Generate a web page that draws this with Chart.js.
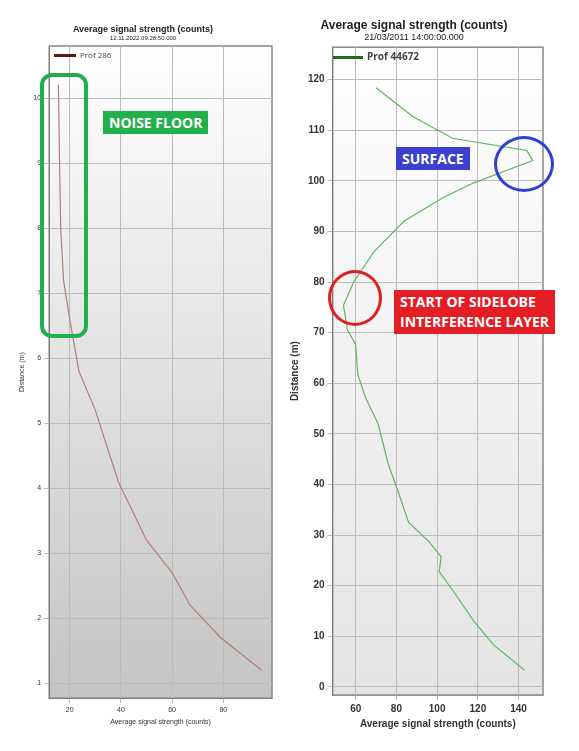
<!DOCTYPE html>
<html>
<head>
<script src="https://cdn.jsdelivr.net/npm/chart.js@4"></script>
<style>
body { margin:0; background:#fff; font-family:"Open Sans", sans-serif; }
.wrap { position:absolute; top:0; height:740px; }
.tag { position:absolute; color:#fff; font-weight:bold; font-family:"Open Sans"; padding:2px 6px; }
.ring { position:absolute; border-style:solid; }
.leg { position:absolute; font-size:9px; color:#444; }
.leg span { display:inline-block; width:22px; height:3px; vertical-align:middle; margin-right:4px; }
</style>
</head>
<body>
<div class="wrap" style="left:0;width:290px"><canvas id="c1"></canvas></div>
<div class="wrap" style="left:285px;width:294px"><canvas id="c2"></canvas></div>

<div class="leg" style="left:54px;top:49px;font-size:8px"><span style="background:#5a1a1a"></span>Prof 286</div>
<div class="leg" style="left:333px;top:49px;font-weight:bold;font-size:10px"><span style="background:#1e6e1e;width:30px"></span>Prof 44672</div>

<div class="tag" style="left:103px;top:111px;background:#22b04b;font-size:14px">NOISE FLOOR</div>
<div class="ring" style="left:40px;top:73px;width:40px;height:257px;border:4px solid #22b04b;border-radius:12px"></div>
<div class="tag" style="left:396px;top:147px;background:#3d3fd0;font-size:14px">SURFACE</div>
<div class="ring" style="left:494px;top:136px;width:54px;height:50px;border:3px solid #3040d0;border-radius:50%"></div>
<div class="tag" style="left:394px;top:290px;background:#e51e25;font-size:14px;line-height:20px">START OF SIDELOBE<br>INTERFERENCE LAYER</div>
<div class="ring" style="left:328px;top:270px;width:48px;height:50px;border:3px solid #e02020;border-radius:50%"></div>

<script>
// left profile
const leftX = [15.6, 16, 16.5, 17.6, 20, 23.6, 30, 39, 50, 60, 67, 79, 95];
const leftY = [10.2, 9.1, 8, 7.2, 6.6, 5.8, 5.2, 4.1, 3.2, 2.7, 2.2, 1.7, 1.2];
const leftXTicks = [20, 40, 60, 80];
const leftYTicks = [1, 2, 3, 4, 5, 6, 7, 8, 9, 10];
// right profile
const rightX = [70, 88, 107.5, 144, 147, 118, 103, 83.7, 69, 59, 54, 56, 60, 61, 65, 71, 76, 81, 86, 96, 102, 101, 108, 118, 128, 143];
const rightY = [118.4, 112.7, 108.4, 106, 104, 99.6, 96.7, 92, 86, 80, 75.4, 70.5, 67.6, 61.8, 57, 52, 44, 38.4, 32.5, 28.7, 25.7, 22.8, 18.9, 13, 8.2, 3.3];
const rightXTicks = [60, 80, 100, 120, 140];
const rightYTicks = [0, 10, 20, 30, 40, 50, 60, 70, 80, 90, 100, 110, 120];

function pts(xs, ys) { return xs.map((x, i) => ({ x: x, y: ys[i] })); }

const bgPlugin = {
  id: 'bg',
  beforeDraw(chart, args, o) {
    const a = chart.chartArea, ctx = chart.ctx;
    const g = ctx.createLinearGradient(0, a.top, 0, a.bottom);
    g.addColorStop(0, o.top); g.addColorStop(1, o.bottom);
    ctx.save(); ctx.fillStyle = g;
    ctx.fillRect(a.left, a.top, a.right - a.left, a.bottom - a.top);
    ctx.strokeStyle = '#888'; ctx.lineWidth = 1.5;
    ctx.strokeRect(a.left, a.top, a.right - a.left, a.bottom - a.top);
    ctx.restore();
  }
};

function make(id, data, color, xmin, xmax, xt, ymin, ymax, yt, big, sub, pad) {
  const f = big ? { size: 10, weight: 'bold' } : { size: 7 };
  new Chart(document.getElementById(id), {
    type: 'scatter',
    data: { datasets: [{ data: data, showLine: true, borderColor: color, borderWidth: 1.2, pointRadius: 0, tension: 0 }] },
    options: {
      responsive: true, maintainAspectRatio: false, animation: false,
      layout: { padding: pad },
      plugins: {
        legend: { display: false },
        title: { display: true, text: 'Average signal strength (counts)', color: '#222', font: { size: big ? 12 : 9, weight: 'bold' }, padding: { top: big ? 18 : 24, bottom: 0 } },
        subtitle: { display: true, text: sub, color: '#222', font: { size: big ? 9 : 6 }, padding: { bottom: 4 } },
        bg: big ? { top: '#ffffff', bottom: '#e4e4e4' } : { top: '#ffffff', bottom: '#c4c4c4' }
      },
      scales: {
        x: { min: xmin, max: xmax, afterBuildTicks: s => { s.ticks = xt.map(v => ({ value: v })); },
             ticks: { color: '#333', font: f }, grid: { color: '#bbb', tickLength: 5 },
             title: { display: true, text: 'Average signal strength (counts)', color: '#333', font: f, padding: 0 } },
        y: { min: ymin, max: ymax, afterBuildTicks: s => { s.ticks = yt.map(v => ({ value: v })); },
             ticks: { color: '#333', font: f }, grid: { color: '#bbb', tickLength: 5 },
             title: { display: true, text: 'Distance (m)', color: '#333', font: f } }
      }
    },
    plugins: [bgPlugin]
  });
}

make('c1', pts(leftX, leftY), '#b87a78', 12, 99, leftXTicks, 0.77, 10.8, leftYTicks, false, '12.11.2022 09:28:50.000', { left: 14, right: 18, bottom: 14 });
make('c2', pts(rightX, rightY), '#5cb85c', 48.7, 152, rightXTicks, -1.6, 126.4, rightYTicks, true, '21/03/2011 14:00:00.000', { left: 0, right: 36, bottom: 10 });
</script>
</body>
</html>
